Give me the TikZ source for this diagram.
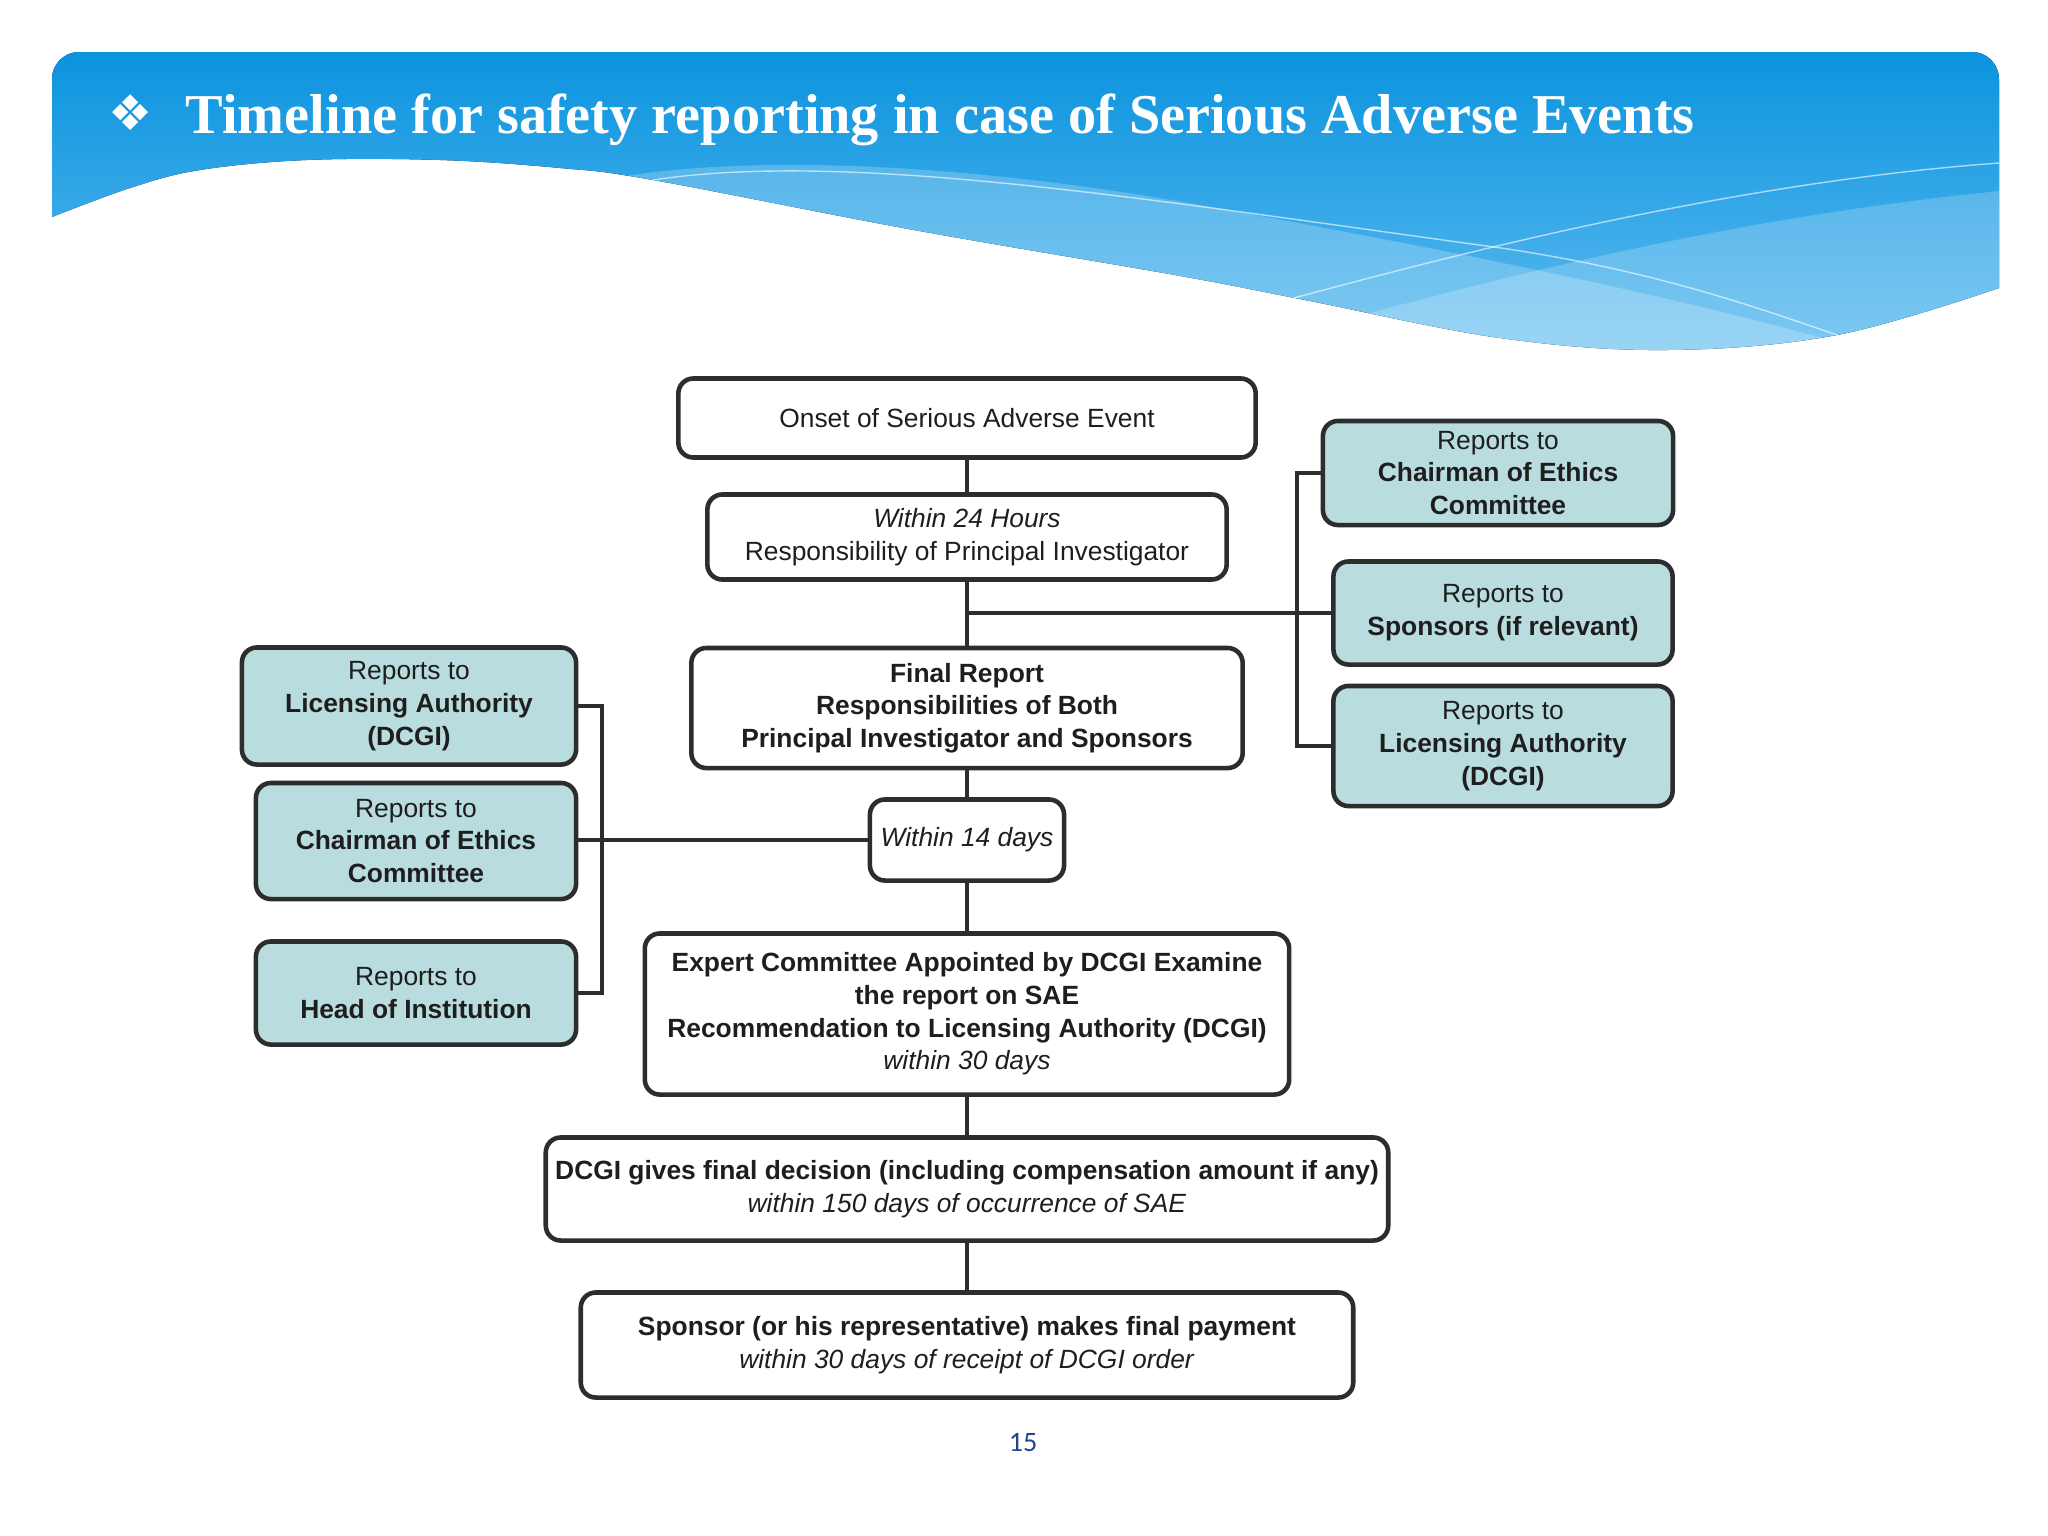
\documentclass[tikz,border=0pt]{standalone}
\usepackage{fontspec}
\setmainfont{Liberation Sans}
\newfontfamily\titlefont{Liberation Serif}
\newfontfamily\symfont{DejaVu Sans}
\newfontfamily\pagefont{Carlito}
\usetikzlibrary{calc}
\definecolor{linec}{RGB}{45,45,45}
\definecolor{tealf}{RGB}{185,220,222}
\definecolor{topblue}{RGB}{8,146,222}
\definecolor{botblue}{RGB}{95,188,240}
\definecolor{pageblue}{RGB}{28,72,140}
\definecolor{txt}{RGB}{30,30,30}
\tikzset{
 box/.style={draw=linec, line width=1.3pt, rounded corners=0.15cm, fill=white, align=center, inner sep=0pt, text=txt, font=\fontsize{7.5}{9.3}\selectfont},
 tbox/.style={box, fill=tealf},
 conn/.style={draw=linec, line width=0.9pt},
 thinwhite/.style={draw=white, draw opacity=0.6, line width=0.4pt},
}
\begin{document}
\begin{tikzpicture}[x=0.01cm,y=-0.01cm]
\useasboundingbox (0,0) rectangle (2048,1536);
\fill[white] (0,0) rectangle (2048,1536);
% header band
\begin{scope}
\clip[rounded corners=0.27cm] (52,52) rectangle (1999,450);
\clip (40,40) -- (2010,40) -- (2010,288) -- plot[smooth,tension=0.6] coordinates {(1999,288) (1837,335) (1667,350) (1500,338) (1305,300) (1175,275) (914,230) (653,180) (560,168) (440,160) (307,160) (200,170) (130,188) (52,217)} -- (40,217) -- cycle;
\fill[top color=topblue, bottom color=botblue] (40,40) rectangle (2010,360);
\fill[white, opacity=0.22] (560,190) .. controls (700,150) and (950,160) .. (1200,205) .. controls (1450,250) and (1700,300) .. (1900,360) -- (1900,420) -- (560,420) -- cycle;
\fill[white, opacity=0.2] (1200,360) .. controls (1450,290) and (1700,220) .. (2010,190) -- (2010,420) -- (1200,420) -- cycle;
\draw[thinwhite] (653,180) .. controls (850,150) and (1150,200) .. (1501,248) .. controls (1650,270) and (1750,305) .. (1837,335);
\draw[thinwhite] (1260,307) .. controls (1400,270) and (1700,185) .. (1999,163);
\end{scope}
\node[text=white, inner sep=0pt, font=\symfont\fontsize{14}{16}\selectfont] (bullet) at (131,113) {❖};
\node[anchor=base west, inner sep=0pt, text=white, font=\titlefont\bfseries\fontsize{16}{19}\selectfont] (title) at (185,133) {Timeline for safety reporting in case of Serious Adverse Events};
% main column
\node[box, minimum width=5.77cm, minimum height=0.79cm] (onset) at (967,418) {Onset of Serious Adverse Event};
\node[box, minimum width=5.19cm, minimum height=0.85cm] (h24) at (967,537) {\textit{Within 24 Hours}\\Responsibility of Principal Investigator};
\node[box, minimum width=5.51cm, minimum height=1.20cm, font=\bfseries\fontsize{7.5}{9.3}\selectfont] (final) at (967,708) {Final Report\\Responsibilities of Both\\Principal Investigator and Sponsors};
\node[box, minimum width=1.94cm, minimum height=0.81cm] (d14) at (967,840) {\textit{Within 14 days}};
\node[box, minimum width=6.44cm, minimum height=1.61cm] (expert) at (967,1014) {\textbf{Expert Committee Appointed by DCGI Examine}\\\textbf{the report on SAE}\\\textbf{Recommendation to Licensing Authority (DCGI)}\\\textit{within 30 days}};
\node[box, minimum width=8.42cm, minimum height=1.03cm] (dcgi) at (967,1189) {\textbf{DCGI gives final decision (including compensation amount if any)}\\\textit{within 150 days of occurrence of SAE}};
\node[box, minimum width=7.72cm, minimum height=1.05cm] (spons) at (967,1345) {\textbf{Sponsor (or his representative) makes final payment}\\\textit{within 30 days of receipt of DCGI order}};
% right column
\node[tbox, minimum width=3.50cm, minimum height=1.04cm] (r1) at (1498,473) {Reports to\\\textbf{Chairman of Ethics}\\\textbf{Committee}};
\node[tbox, minimum width=3.39cm, minimum height=1.03cm] (r2) at (1503,613) {Reports to\\\textbf{Sponsors (if relevant)}};
\node[tbox, minimum width=3.39cm, minimum height=1.20cm] (r3) at (1503,746) {Reports to\\\textbf{Licensing Authority}\\\textbf{(DCGI)}};
% left column
\node[tbox, minimum width=3.34cm, minimum height=1.17cm] (l1) at (409,706) {Reports to\\\textbf{Licensing Authority}\\\textbf{(DCGI)}};
\node[tbox, minimum width=3.20cm, minimum height=1.16cm] (l2) at (416,841) {Reports to\\\textbf{Chairman of Ethics}\\\textbf{Committee}};
\node[tbox, minimum width=3.20cm, minimum height=1.03cm] (l3) at (416,993) {Reports to\\\textbf{Head of Institution}};
% connectors
\draw[conn] (onset) -- (h24);
\draw[conn] (h24) -- (final);
\draw[conn] (h24.south |- r2.west) -- (r2.west);
\coordinate (rb1) at (1297,473);
\coordinate (rb2) at (1297,746);
\draw[conn] (r1.west) -- (rb1) -- (rb2) -- (r3.west);
\draw[conn] (final) -- (d14);
\draw[conn] (d14) -- (expert);
\draw[conn] (expert) -- (dcgi);
\draw[conn] (dcgi) -- (spons);
\draw[conn] (d14.west) -- (l2.east |- d14.west);
\coordinate (lb1) at (602,706);
\coordinate (lb2) at (602,993);
\draw[conn] (l1.east) -- (lb1) -- (lb2) -- (l3.east);
% page number
\node[text=pageblue, inner sep=0pt, font=\pagefont\fontsize{8}{9}\selectfont] (pg) at (1023,1443) {15};
\end{tikzpicture}
\end{document}
